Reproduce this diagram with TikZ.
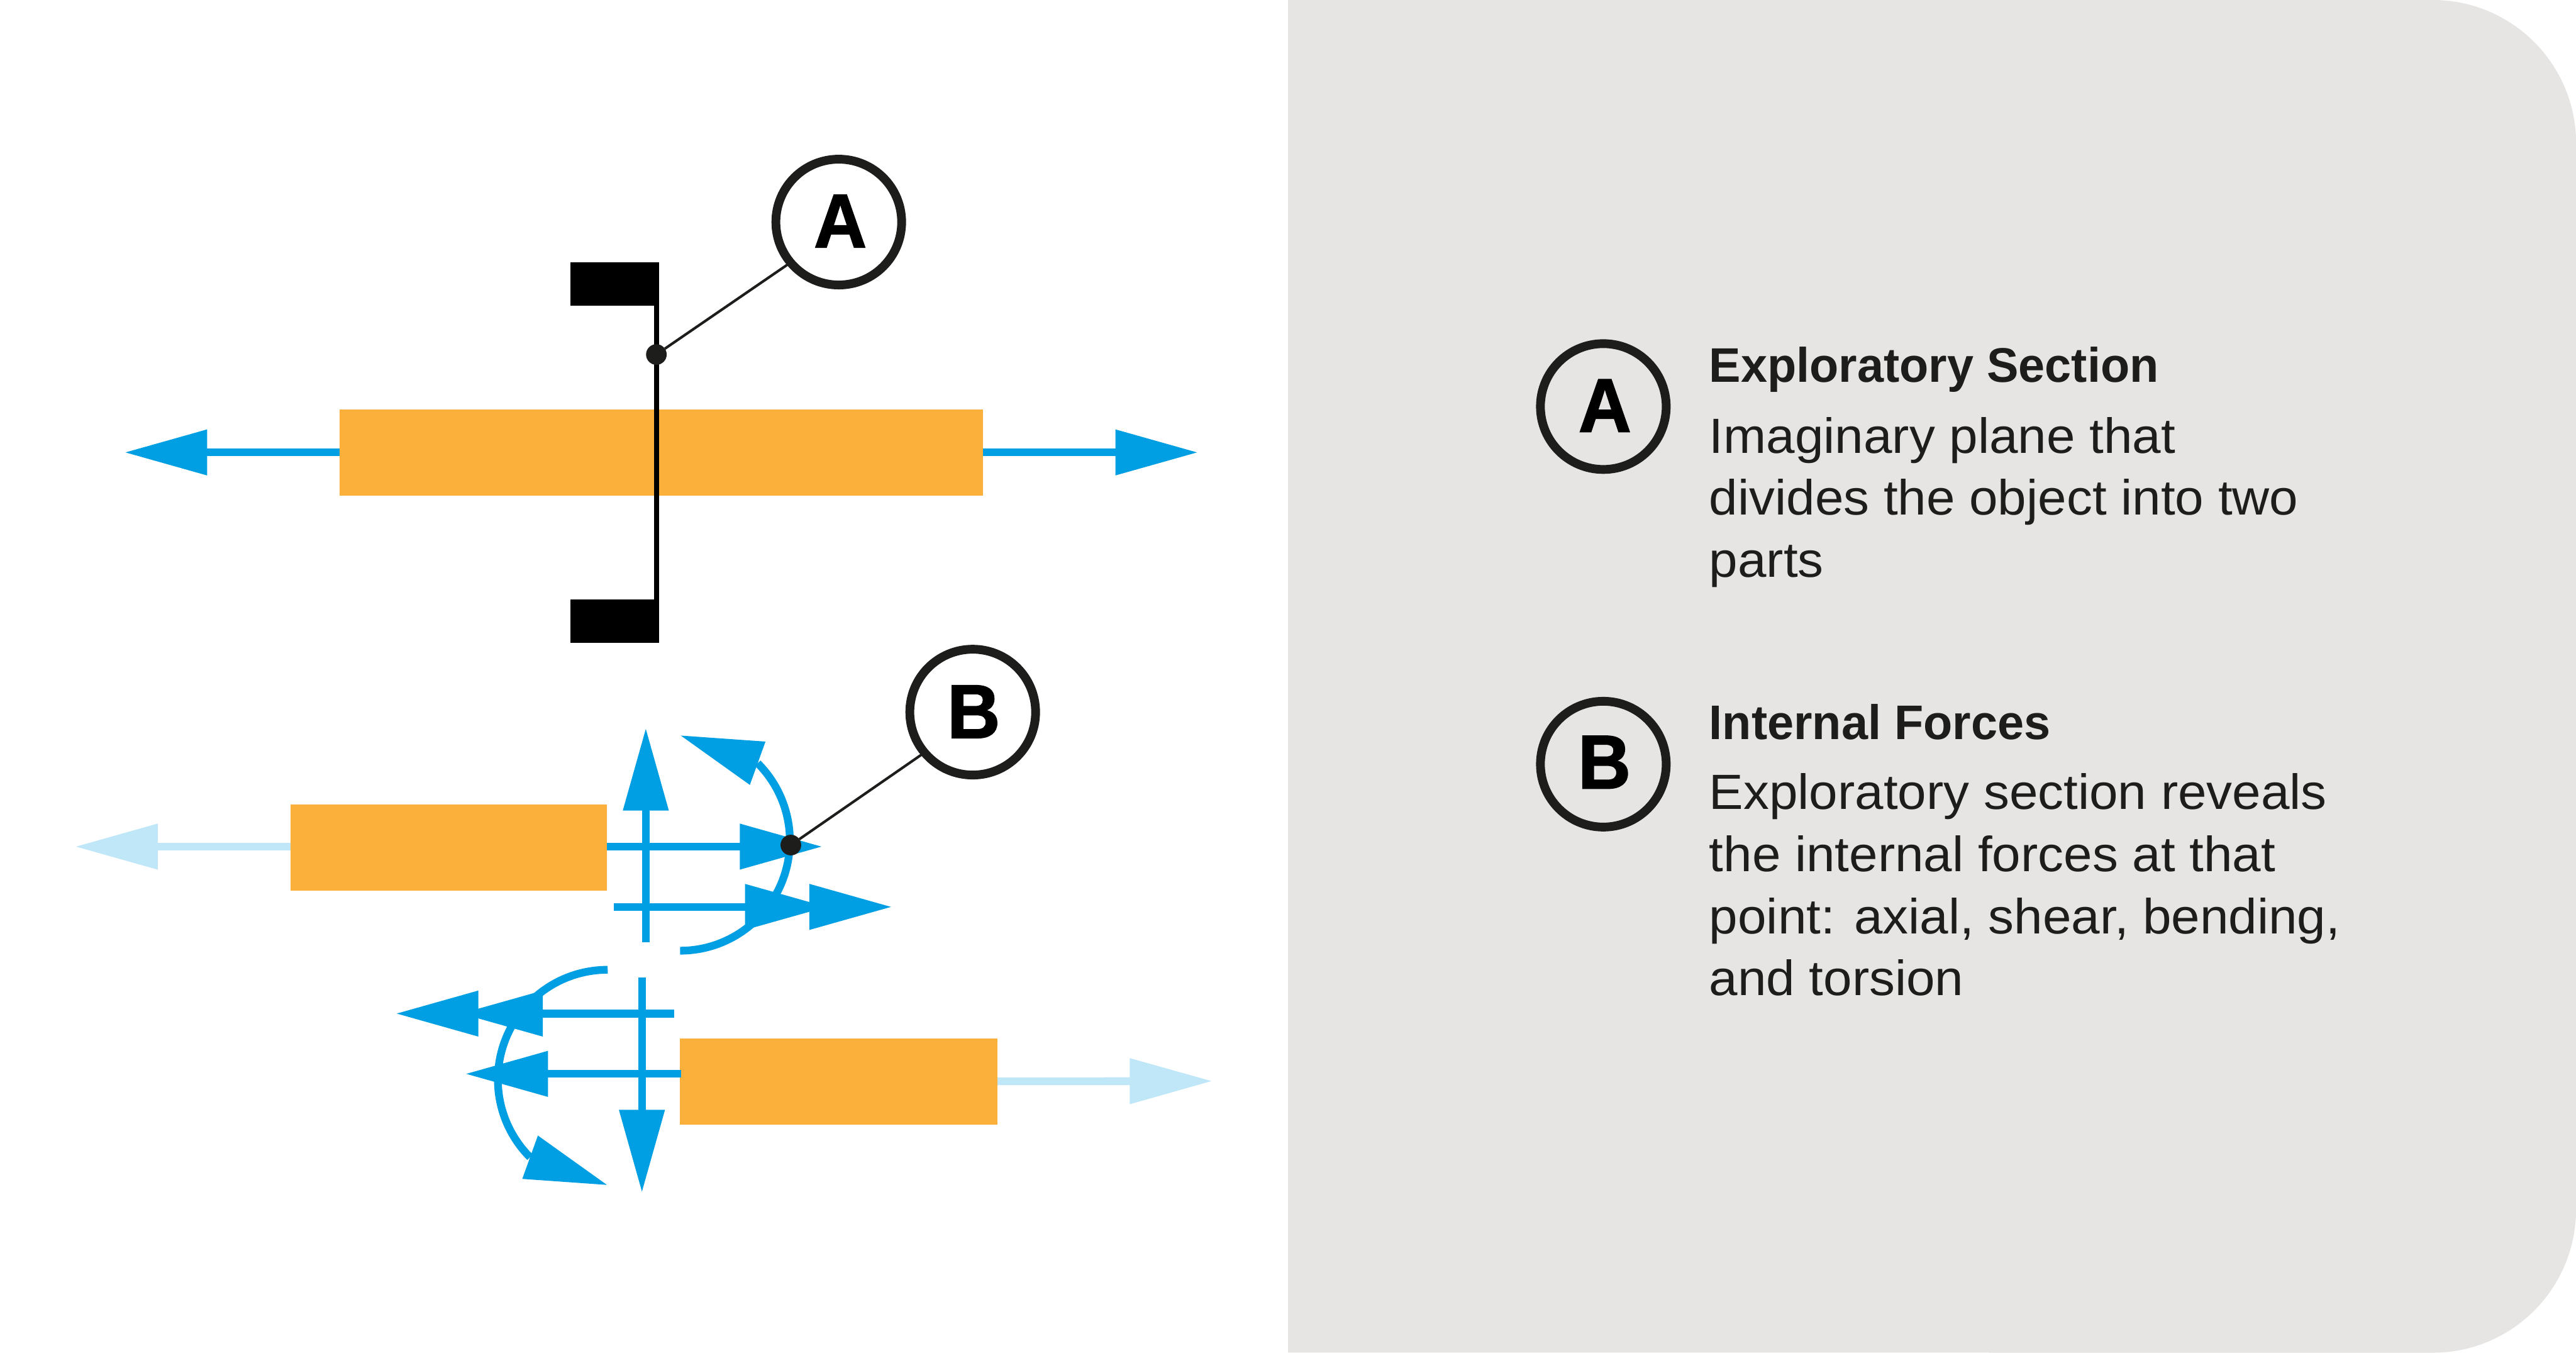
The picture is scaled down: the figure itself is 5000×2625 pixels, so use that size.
\documentclass[tikz,border=0pt]{standalone}
\usepackage{fontspec}
\usetikzlibrary{arrows.meta}
\setmainfont{Liberation Sans}
\newfontfamily\bodyfont{Liberation Sans}[FakeStretch=1.04]
\newfontfamily\headfont{Liberation Sans}[FakeStretch=0.98]
\newfontfamily\letterfont{Liberation Sans}[FakeStretch=0.96,BoldFeatures={FakeBold=1.6,FakeStretch=0.96}]
\definecolor{panelgray}{HTML}{E6E5E3}
\definecolor{barorange}{HTML}{FBB03B}
\definecolor{forceblue}{HTML}{009FE3}
\definecolor{ghostblue}{HTML}{BFE7F8}
\definecolor{inkdark}{HTML}{1D1D1B}
\tikzset{
  bar/.style={fill=barorange,draw=none},
  force/.style={draw=forceblue,line width=0.15cm,-{Triangle[length=1.6cm,width=0.85cm]}},
  ghost/.style={draw=ghostblue,line width=0.15cm,-{Triangle[length=1.6cm,width=0.85cm]}},
  bendline/.style={draw=forceblue,line width=0.15cm},
  leader/.style={draw=inkdark,line width=0.05cm},
  dotmark/.style={circle,fill=inkdark,draw=none,inner sep=0pt,outer sep=0pt,minimum size=0.4cm},
  badge/.style={circle,draw=inkdark,fill=white,line width=0.17cm,inner sep=0pt,outer sep=0pt,minimum size=2.44cm},
  badgeletter/.style={anchor=base,inner sep=0pt,font=\letterfont\fontsize{42}{42}\selectfont\bfseries,text=black},
  headline/.style={anchor=base west,inner sep=0pt,text=inkdark,font=\headfont\bfseries\fontsize{26.8}{26.8}\selectfont},
  bodytext/.style={anchor=base west,inner sep=0pt,text=inkdark,align=left,font=\bodyfont\fontsize{27.3}{34.25}\selectfont},
}
\begin{document}
\begin{tikzpicture}[x=0.01cm,y=-0.01cm]
\useasboundingbox (0,0) rectangle (5000,2625);
% panel
\fill[panelgray] (2500,0) -- (4722,0) arc[start angle=90,end angle=0,radius=2.78cm] -- (5000,2347) arc[start angle=0,end angle=-90,radius=2.78cm] -- (2500,2625) -- cycle;

% top member with section
\node[bar,minimum width=12.47cm,minimum height=1.67cm,inner sep=0pt,outer sep=0pt] (topbar) at (1283.5,878) {};
\coordinate (topL) at (242,878);
\coordinate (topR) at (2325,878);
\draw[force] (topbar.west) -- (topL);
\draw[force] (topbar.east) -- (topR);
\fill[black] (1107,509) rectangle (1279,593.5);
\fill[black] (1107,1163) rectangle (1279,1247);
\fill[black] (1270,509) rectangle (1279,1247);

\node[dotmark] (dotA) at (1274,688) {};
\node[badge] (circA) at (1628,431) {};
\draw[leader] (dotA) -- (circA.220);
\node[badgeletter] (letA) at (1631,480) {A};

% lower-left piece upper cluster
\node[bar,minimum width=6.14cm,minimum height=1.68cm,inner sep=0pt,outer sep=0pt] (barL) at (871,1645) {};
\coordinate (ghostL) at (146,1643);
\draw[ghost] (barL.west |- ghostL) -- (ghostL);
\coordinate (axA) at (1178,1643);
\coordinate (axAt) at (1596,1643);
\draw[force] (axA) -- (axAt);
\coordinate (axB) at (1191,1760);
\coordinate (axBm) at (1606,1760);
\coordinate (axBt) at (1731,1760);
\draw[force] (axB) -- (axBm);
\draw[force] (axB) -- (axBt);
\coordinate (shA) at (1253.5,1829);
\coordinate (shAt) at (1253.5,1413);
\draw[force] (shA) -- (shAt);
\coordinate (arcA) at (1320,1845);
\coordinate (arcAe) at (1470,1481);
\coordinate (arcAt) at (1320,1427);
\draw[bendline] (arcA) arc[start angle=-90,end angle=45,radius=2.13cm];
\draw[force] (arcAe) -- (arcAt);

% lower-right piece lower cluster
\node[bar,minimum width=6.16cm,minimum height=1.67cm,inner sep=0pt,outer sep=0pt] (barR) at (1628,2098.5) {};
\coordinate (ghostR) at (2353,2098);
\draw[ghost] (barR.east) -- (ghostR);
\coordinate (axC) at (1321.5,2084);
\coordinate (axCt) at (903.5,2084);
\draw[force] (axC) -- (axCt);
\coordinate (axD) at (1308.5,1967);
\coordinate (axDm) at (893.5,1967);
\coordinate (axDt) at (768.5,1967);
\draw[force] (axD) -- (axDm);
\draw[force] (axD) -- (axDt);
\coordinate (shB) at (1246,1897);
\coordinate (shBt) at (1246,2314);
\draw[force] (shB) -- (shBt);
\coordinate (arcB) at (1179.5,1882);
\coordinate (arcBe) at (1029.5,2246);
\coordinate (arcBt) at (1179.5,2300);
\draw[bendline] (arcB) arc[start angle=90,end angle=225,radius=2.13cm];
\draw[force] (arcBe) -- (arcBt);

\node[dotmark] (dotB) at (1535,1640) {};
\node[badge] (circB) at (1888,1382) {};
\draw[leader] (dotB) -- (circB.220);
\node[badgeletter] (letB) at (1890,1432) {B};

% legend
\node[badge,fill=none] (keyA) at (3112,789) {};
\node[badgeletter] (keyAl) at (3115,838) {A};
\node[headline] (headA) at (3317,741) {Exploratory Section};
\node[bodytext] (bodyA) at (3317,1120) {Imaginary plane that\\divides the object into two\\parts};

\node[badge,fill=none] (keyB) at (3112,1483) {};
\node[badgeletter] (keyBl) at (3114,1530) {B};
\node[headline] (headB) at (3317,1435) {Internal Forces};
\node[bodytext] (bodyB) at (3317,1932) {Exploratory section reveals\\the internal forces at that\\point: axial, shear, bending,\\and torsion};
\end{tikzpicture}
\end{document}
